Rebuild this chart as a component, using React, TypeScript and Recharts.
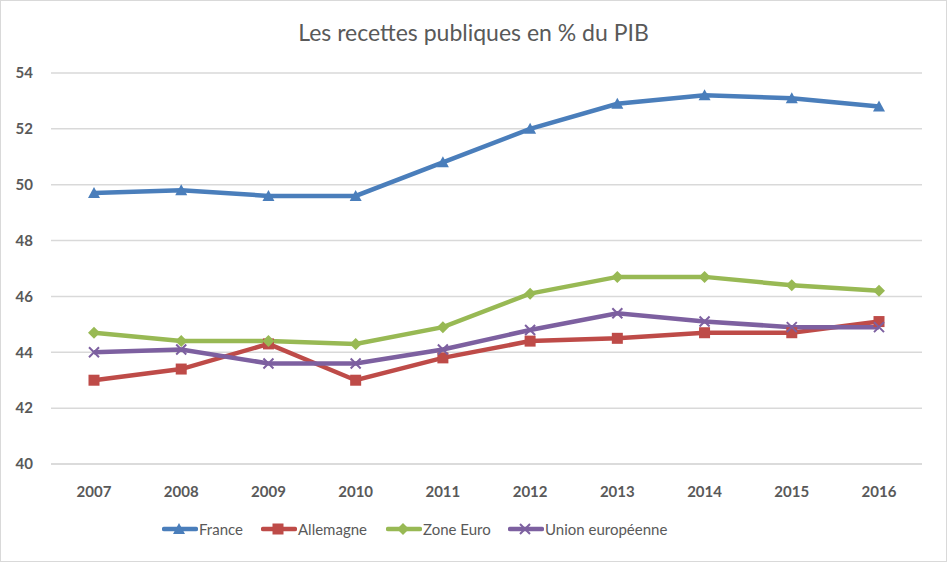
import React from 'react';
import { LineChart, Line, XAxis, YAxis, CartesianGrid } from 'recharts';

const years = ['2007', '2008', '2009', '2010', '2011', '2012', '2013', '2014', '2015', '2016'];
const france = [49.7, 49.8, 49.6, 49.6, 50.8, 52.0, 52.9, 53.2, 53.1, 52.8];
const allemagne = [43.0, 43.4, 44.3, 43.0, 43.8, 44.4, 44.5, 44.7, 44.7, 45.1];
const zoneEuro = [44.7, 44.4, 44.4, 44.3, 44.9, 46.1, 46.7, 46.7, 46.4, 46.2];
const unionEuropeenne = [44.0, 44.1, 43.6, 43.6, 44.1, 44.8, 45.4, 45.1, 44.9, 44.9];
const yTicks = [40, 42, 44, 46, 48, 50, 52, 54];

const data = years.map((y, i) => ({
  year: y,
  france: france[i],
  allemagne: allemagne[i],
  zoneEuro: zoneEuro[i],
  ue: unionEuropeenne[i],
}));

const FONT = 'Lato, "Open Sans", sans-serif';
const C_FR = '#4A7EBB';
const C_DE = '#BE4B48';
const C_ZE = '#98B954';
const C_UE = '#7D60A0';

const Triangle = (props: any) => {
  const { cx, cy } = props;
  if (cx == null || cy == null) return null;
  return <path d={`M${cx},${cy - 6} L${cx + 6},${cy + 5} L${cx - 6},${cy + 5} Z`} fill={C_FR} />;
};
const Square = (props: any) => {
  const { cx, cy } = props;
  if (cx == null || cy == null) return null;
  return <rect x={cx - 5.5} y={cy - 5.5} width={11} height={11} fill={C_DE} />;
};
const Diamond = (props: any) => {
  const { cx, cy } = props;
  if (cx == null || cy == null) return null;
  return <path d={`M${cx},${cy - 6} L${cx + 6},${cy} L${cx},${cy + 6} L${cx - 6},${cy} Z`} fill={C_ZE} />;
};
const Cross = (props: any) => {
  const { cx, cy } = props;
  if (cx == null || cy == null) return null;
  return (
    <path
      d={`M${cx - 5},${cy - 5} L${cx + 5},${cy + 5} M${cx - 5},${cy + 5} L${cx + 5},${cy - 5}`}
      stroke={C_UE}
      strokeWidth={2}
    />
  );
};

const legendItems = [
  { name: 'France', color: C_FR, shape: 'tri', x: 162 },
  { name: 'Allemagne', color: C_DE, shape: 'sq', x: 261 },
  { name: 'Zone Euro', color: C_ZE, shape: 'dia', x: 386 },
  { name: 'Union européenne', color: C_UE, shape: 'x', x: 508 },
];

const LegendIcon = ({ color, shape }: { color: string; shape: string }) => {
  let m: React.ReactNode = null;
  if (shape === 'tri') m = <path d="M17,1 L23,12 L11,12 Z" fill={color} />;
  if (shape === 'sq') m = <rect x={11.5} y={1.5} width={11} height={11} fill={color} />;
  if (shape === 'dia') m = <path d="M17,1 L23,7 L17,13 L11,7 Z" fill={color} />;
  if (shape === 'x') m = <path d="M12,2 L22,12 M12,12 L22,2" stroke={color} strokeWidth={2} />;
  return (
    <svg width={36} height={14} style={{ display: 'block' }}>
      <line x1={2} y1={7} x2={34} y2={7} stroke={color} strokeWidth={4.5} strokeLinecap="round" />
      {m}
    </svg>
  );
};

export default function App() {
  return (
    <div
      style={{
        position: 'absolute',
        left: 0,
        top: 0,
        width: 947,
        height: 562,
        background: '#fff',
        fontFamily: FONT,
      }}
    >
      <div
        style={{
          position: 'absolute',
          left: 0,
          top: 0,
          width: 945,
          height: 560,
          border: '1px solid #D9D9D9',
        }}
      />
      <div
        style={{
          position: 'absolute',
          top: 18,
          left: 0,
          width: 947,
          textAlign: 'center',
          fontSize: 23,
          color: '#595959',
          fontFamily: FONT,
        }}
      >
        Les recettes publiques en % du PIB
      </div>
      <div style={{ position: 'absolute', left: 0, top: 0 }}>
        <LineChart width={947} height={562} data={data} margin={{ top: 73, right: 25, left: 0, bottom: 58 }}>
          <CartesianGrid vertical={false} stroke="#D9D9D9" strokeWidth={1.5} />
          <XAxis
            dataKey="year"
            axisLine={{ stroke: '#D9D9D9', strokeWidth: 1.5 }}
            tickLine={false}
            height={40}
            tickMargin={16}
            padding={{ left: 43, right: 43 }}
            tick={{ fill: '#595959', fontSize: 15, fontWeight: 700, fontFamily: FONT }}
          />
          <YAxis
            domain={[40, 54]}
            ticks={yTicks}
            width={51}
            axisLine={false}
            tickLine={false}
            tickMargin={12}
            interval={0}
            tick={{ fill: '#595959', fontSize: 15, fontWeight: 700, fontFamily: FONT }}
          />
          <Line type="linear" dataKey="france" stroke={C_FR} strokeWidth={4.5} dot={<Triangle />} activeDot={false} isAnimationActive={false} />
          <Line type="linear" dataKey="allemagne" stroke={C_DE} strokeWidth={4.5} dot={<Square />} activeDot={false} isAnimationActive={false} />
          <Line type="linear" dataKey="zoneEuro" stroke={C_ZE} strokeWidth={4.5} dot={<Diamond />} activeDot={false} isAnimationActive={false} />
          <Line type="linear" dataKey="ue" stroke={C_UE} strokeWidth={4.5} dot={<Cross />} activeDot={false} isAnimationActive={false} />
        </LineChart>
      </div>
      {legendItems.map((it) => (
        <div
          key={it.name}
          style={{
            position: 'absolute',
            left: it.x,
            top: 520,
            display: 'flex',
            alignItems: 'center',
            gap: 1,
            fontSize: 15,
            color: '#595959',
            fontFamily: FONT,
            whiteSpace: 'nowrap',
          }}
        >
          <LegendIcon color={it.color} shape={it.shape} />
          <span>{it.name}</span>
        </div>
      ))}
    </div>
  );
}
